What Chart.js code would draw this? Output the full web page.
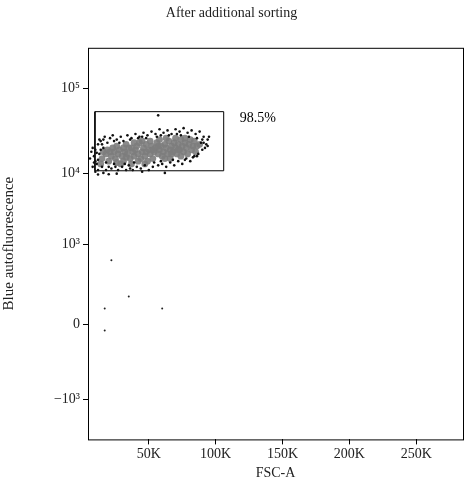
<!DOCTYPE html>
<html><head>
<script src="https://cdn.jsdelivr.net/npm/chart.js@4/dist/chart.umd.min.js"></script>
<style>html,body{margin:0;background:#fff}#wrap{width:474px;height:504px}</style>
</head><body><div id="wrap"><canvas id="c"></canvas></div>
<script>
// values in thousands: [FSC-A (K), blue autofluorescence (x1000)]
const corePoints = [[15,15],[18,17],[20,14],[22,16],[24,18],[25,15],[27,17],[28,19],[30,16],[31,14],[32,18],[34,17],[35,20],[36,15],[38,18],[39,16],[40,19],[41,21],[42,17],[44,15],[45,18],[46,20],[47,16],[48,22],[50,19],[51,17],[52,21],[53,15],[54,18],[55,20],[56,23],[57,17],[58,19],[59,21],[60,16],[61,18],[62,22],[63,20],[64,17],[65,24],[66,19],[67,21],[68,18],[69,23],[70,20],[71,17],[72,22],[73,19],[74,25],[75,21],[76,18],[77,23],[78,20],[80,22],[82,19],[84,24],[86,21],[26,21],[33,22],[43,23],[37,13],[49,14],[23,20],[29,13],[19,19],[58,25],[66,15],[79,17],[70,26],[45,24],
  [16,18],[21,18],[26,13.5],[33,15.5],[37,20],[42,14],[48,18],[53,19],[57,21],[62,15],[67,17],[72,19],[77,26],[81,25],[85,18],[88,22],[14,13],[31,20],[39,23],[51,24],[63,26],[74,16],[83,21],[47,13]];
const edgePoints = [[8,12],[9,16],[10,19],[11,13],[12,22],[12,11],[13,17],[14,24],[15,12],[16,20],[17,27],[18,11],[19,23],[20,12],[21,26],[22,11.5],[23,28],[25,12],[26,25],[27,11],[29,27],[30,12],[31,24],[33,11],[34,28],[35,12.5],[37,26],[38,11],[40,29],[41,12],[43,27],[44,11.5],[46,30],[47,12.5],[49,28],[50,11],[52,31],[53,12],[55,29],[57,12.5],[58,33],[60,13],[61,30],[63,12],[64,32],[66,13.5],[67,29],[69,12.5],[70,33],[72,14],[73,31],[75,13],[76,34],[78,15],[79,30],[81,14],[82,32],[84,16],[85,29],[87,17],[88,31],[90,19],[91,27],[93,22],[94,25],[89,23],[92,20],[86,26],[10,14],[13,25],[6,15],[7,18],[57,48],[10,10.5],[62,10.2],[20,9.8],
  [9,13.5],[11,17.5],[12,14.5],[14,19],[16,25],[18,13.5],[24,24],[28,23],[32,13],[36,25],[39,13.5],[45,27],[48,26],[54,13.5],[56,27],[59,28],[65,28],[68,14.5],[71,29],[74,28],[80,27],[83,15.5],[86,16],[91,23],[94,21],[95,27],[8,20],[15,22],[24,13],[42,26],[36,11.5],[59,14],[77,14.5],[90,25],[12,9.7],[26,10],[45,10.5],[16,10.2]];
const outlierPoints = [[22,0.8],[17,0.2],[35,0.35],[60,0.2],[17,-0.08]];
const gateX = [9.7, 106];
const gateY = [10.8, 53];
const gateLabel = '98.5%';
const gateLabelPos = [118, 44];
const xTicks = [50000, 100000, 150000, 200000, 250000];
const yTicks = [-1000, 0, 1000, 10000, 100000];
const yTickLabels = ['\u221210\u00b3', '0', '10\u00b3', '10\u2074', '10\u2075'];

// biexponential-like display transform
function tf(v) {
  if (v >= 10000) return 264 + (Math.log10(v) - 4) * 85;
  if (v >= 1000) return 194 + (Math.log10(v) - 3) * 70;
  if (v >= 0) return 114 + v / 1000 * 80;
  return 114 + v / 1000 * 74;
}
const pt = p => ({x: p[0] * 1000, y: tf(p[1] * 1000)});

const frame = {
  id: 'frame',
  afterDatasetsDraw(chart) {
    const a = chart.chartArea, ctx = chart.ctx, xs = chart.scales.x, ys = chart.scales.y;
    ctx.save();
    ctx.strokeStyle = '#000'; ctx.lineWidth = 1;
    ctx.strokeRect(a.left + 0.5, a.top + 0.5, a.right - a.left, a.bottom - a.top);
    ctx.font = '14px "Liberation Serif"'; ctx.fillStyle = '#000';
    ctx.textBaseline = 'middle';
    ctx.fillText(gateLabel, xs.getPixelForValue(gateLabelPos[0] * 1000), ys.getPixelForValue(tf(gateLabelPos[1] * 1000)));
    ctx.restore();
  }
};

const gate = [[gateX[0], gateY[0]], [gateX[1], gateY[0]], [gateX[1], gateY[1]], [gateX[0], gateY[1]], [gateX[0], gateY[0]]].map(pt);

new Chart(document.getElementById('c'), {
  type: 'scatter',
  data: {
    datasets: [
      {data: edgePoints.map(pt), pointRadius: 1.3, backgroundColor: '#111', borderWidth: 0},
      {data: corePoints.map(pt), pointRadius: 3.4, backgroundColor: 'rgba(125,125,125,0.9)', borderWidth: 0},
      {data: outlierPoints.map(pt), pointRadius: 1, backgroundColor: '#222', borderWidth: 0},
      {type: 'line', data: gate, borderColor: '#000', borderWidth: 1, pointRadius: 0, fill: false, tension: 0}
    ]
  },
  options: {
    responsive: true, maintainAspectRatio: false, animation: false,
    layout: {padding: {left: 0, right: 11, top: 0, bottom: 0}},
    plugins: {
      legend: {display: false}, tooltip: {enabled: false},
      title: {display: true, text: 'After additional sorting', color: '#222',
        font: {family: 'Liberation Serif', size: 14, weight: 'normal'}, padding: {top: 5, bottom: 26}}
    },
    scales: {
      x: {
        type: 'linear', min: 4500, max: 285000,
        afterBuildTicks: s => { s.ticks = xTicks.map(v => ({value: v})); },
        ticks: {color: '#222', font: {family: 'Liberation Serif', size: 14}, callback: v => (v / 1000) + 'K', maxRotation: 0, padding: 2},
        grid: {display: true, drawOnChartArea: false, tickLength: 5, color: '#000'},
        border: {display: false},
        title: {display: true, text: 'FSC-A', color: '#222', font: {family: 'Liberation Serif', size: 14}, padding: {top: 0, bottom: 22}}
      },
      y: {
        type: 'linear', min: 0, max: 389,
        afterBuildTicks: s => { s.ticks = yTicks.map(v => ({value: tf(v)})); },
        afterFit: s => { s.width = 88; },
        ticks: {color: '#222', font: {family: 'Liberation Serif', size: 14},
          callback: (v, i) => yTickLabels[i], padding: 3},
        grid: {display: true, drawOnChartArea: false, tickLength: 5, color: '#000'},
        border: {display: false},
        title: {display: true, text: 'Blue autofluorescence', color: '#222', font: {family: 'Liberation Serif', size: 15}, padding: 0}
      }
    }
  },
  plugins: [frame]
});
</script></body></html>
